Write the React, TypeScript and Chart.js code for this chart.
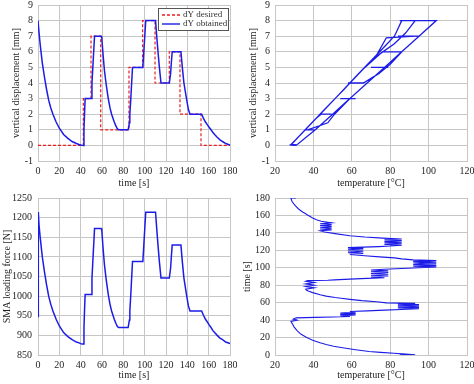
import React, { useEffect, useRef } from 'react';
import { Chart, registerables } from 'chart.js';

Chart.register(...registerables);

// ---------- data ----------
// time samples [s], grouped by phase (same grouping in every parallel array)
const timeS = [
  0, 0.3, 1, 2, 3, 4, 6, 8, 10, 12, 14, 17, 20, 24, 28, 32, 36, 38.5, 40, 41.2, 42.6,
  43.1, 43.6, 44.2, 45, 45.8, 46.6, 47.4, 48.2, 49, 49.8,
  50.6, 51.4, 52.2, 53, 53.8, 54.6, 55.4, 56.2, 57, 57.8, 58.6, 59.2,
  59.8, 61, 62.3, 63.75, 65, 65.9, 67.5, 69, 71.5, 73, 74.3, 75.5, 77, 78.5, 80, 81.5, 83, 84.5, 85.3,
  85.7, 86.1, 87, 87.8, 88.6, 89.5, 90.5, 91.5, 92.5, 93.5, 94.5, 95.5, 96.5, 97.4, 98.3,
  99.2, 100.1, 101, 101.9, 102.8, 103.7, 104.6, 105.5, 106.4, 107.3, 108.2, 109.1, 110.2,
  111.3, 112.5, 113.8, 115.3, 116.3, 117.3, 118.3, 119.3, 120.3, 121.3, 122.3, 123.1, 123.7,
  124.3, 124.9, 125.8, 126.7, 127.6, 128.5, 129.4, 130.3, 131.2, 132.1, 133, 134,
  135.3, 136.8, 139.2, 141, 142.5, 143.5, 144.5, 145.5, 146.5, 147.5, 148.5, 149.5, 150.5, 151.5, 153.4,
  155, 157, 159, 160.6, 162.2, 164, 166, 168, 170.6, 173, 176, 180, 180,
];

// dY obtained [mm]
const dispObtained = [
  8, 8, 7.2, 6.5, 5.9, 5.3, 4.4, 3.6, 2.9, 2.4, 2.0, 1.5, 1.1, 0.7, 0.45, 0.25, 0.12, 0.06, 0.03, 0.01, 0,
  1, 2, 3, 3, 3, 3, 3, 3, 3, 3,
  4, 5, 6, 7, 7, 7, 7, 7, 7, 7, 7, 7,
  6.9, 5.8, 4.8, 4, 3.4, 3, 2.4, 2, 1.5, 1.25, 1.08, 1, 1, 1, 1, 1, 1, 1, 1,
  1.45, 2, 3, 4, 5, 5, 5, 5, 5, 5, 5, 5, 5, 5, 5,
  6, 7, 8, 8, 8, 8, 8, 8, 8, 8, 8, 8, 8,
  7, 6, 5, 4, 4, 4, 4, 4, 4, 4, 4, 4, 4,
  4.6, 5.2, 6, 6, 6, 6, 6, 6, 6, 6, 6, 6,
  5, 4, 3, 2.3, 2, 2, 2, 2, 2, 2, 2, 2, 2, 2, 2,
  1.75, 1.5, 1.3, 1.15, 1.0, 0.82, 0.66, 0.52, 0.36, 0.25, 0.12, 0.02, 0,
];

// temperature [°C]
const temperatureC = [
  85, 93, 88, 82, 75, 69, 62, 56, 50.5, 46.6, 43.5, 39.6, 36.5, 33.4, 31.5, 30, 29, 28.3, 31.5, 29.5, 31,
  41, 50, 59, 54, 62, 54, 62, 54, 62, 59,
  68, 77, 86, 95, 84, 95, 84, 95, 84, 95, 84, 93,
  78, 73, 65.2, 59, 54.4, 51.3, 46.6, 43.5, 39.6, 37.7, 36.4, 36, 40.5, 36, 40.5, 36, 40.5, 36, 37,
  47.5, 51, 59, 68, 77, 70, 79, 70, 79, 70, 79, 70, 79, 70, 77,
  86, 95, 104, 92, 104, 92, 104, 92, 104, 92, 104, 92, 86,
  82.2, 74.5, 66.7, 59, 66, 58, 66, 58, 66, 58, 66, 58, 66,
  74, 80, 86, 77, 86, 77, 86, 77, 86, 77, 86, 76,
  66.8, 59, 51.3, 45.8, 43.5, 49.5, 43.5, 49.5, 43.5, 49.5, 43.5, 49.5, 43.5, 49.5, 44,
  41.6, 39.6, 38.1, 36.9, 35.8, 34.4, 33.1, 32, 30.8, 29.9, 28.9, 28.2, 31,
];

// SMA loading force [N]
const loadingForceN = [
  948, 1214, 1180, 1151, 1126, 1101, 1063, 1029, 1000, 979, 962, 941, 924, 907, 897, 889, 883, 881, 879, 878, 878,
  920, 962, 1004, 1004, 1004, 1004, 1004, 1004, 1004, 1004,
  1046, 1088, 1130, 1172, 1172, 1172, 1172, 1172, 1172, 1172, 1172, 1172,
  1168, 1122, 1080, 1046, 1021, 1004, 979, 962, 941, 931, 923, 920, 920, 920, 920, 920, 920, 920, 920,
  939, 962, 1004, 1046, 1088, 1088, 1088, 1088, 1088, 1088, 1088, 1088, 1088, 1088, 1088,
  1130, 1172, 1214, 1214, 1214, 1214, 1214, 1214, 1214, 1214, 1214, 1214, 1214,
  1172, 1130, 1088, 1046, 1046, 1046, 1046, 1046, 1046, 1046, 1046, 1046, 1046,
  1071, 1096, 1130, 1130, 1130, 1130, 1130, 1130, 1130, 1130, 1130, 1130,
  1088, 1046, 1004, 975, 962, 962, 962, 962, 962, 962, 962, 962, 962, 962, 962,
  952, 941, 933, 926, 920, 912, 906, 900, 893, 889, 883, 879, 878,
];

// dY desired (step command)
const desiredTime = [0, 42.5, 42.5, 49.7, 49.7, 58.8, 58.8, 85.3, 85.3, 98.1, 98.1, 109.7, 109.7, 123.1, 123.1, 133.1, 133.1, 152.8, 152.8, 180];
const desiredDisp = [0, 0, 3, 3, 7, 7, 1, 1, 5, 5, 8, 8, 4, 4, 6, 6, 2, 2, 0, 0];

const legendLabels = ['dY desired', 'dY obtained'];

// ---------- styling ----------
const FONT = "'Liberation Serif', 'Times New Roman', Times, serif";
const GRID = '#c6c6c6';
const TEXT = '#1e1e1e';
const BLUE = 'rgb(28,28,232)';
const RED = 'rgb(235,30,30)';
const W = 237;
const H = 192;

function makeScale(
  min: number, max: number, step: number, title: string,
  size: number, tickPad: number, titlePad: number, horizontal: boolean,
) {
  return {
    type: 'linear',
    min, max,
    ticks: {
      stepSize: step,
      autoSkip: false,
      maxRotation: 0,
      font: { family: FONT, size: 10 },
      color: TEXT,
      padding: tickPad,
      callback: (v: any) => String(v),
    },
    grid: { color: GRID, lineWidth: 1, drawTicks: false },
    border: { display: true, color: GRID, width: 1 },
    title: {
      display: true,
      text: title,
      color: TEXT,
      font: { family: FONT, size: 10 },
      padding: horizontal ? { top: 0, bottom: titlePad } : { top: titlePad, bottom: 0 },
    },
    afterFit: (s: any) => {
      if (horizontal) {
        s.height = size;
        s.paddingLeft = 0;
        s.paddingRight = 0;
      } else {
        s.width = size;
        s.paddingTop = 0;
        s.paddingBottom = 0;
      }
    },
  };
}

const insideLegend = {
  id: 'insideLegend',
  afterDraw(chart: any) {
    const { ctx, chartArea } = chart;
    const w = 70;
    const h = 22;
    const x = Math.round(chartArea.right - 72);
    const y = Math.round(chartArea.top + 3);
    ctx.save();
    ctx.fillStyle = '#ffffff';
    ctx.fillRect(x, y, w, h);
    ctx.strokeStyle = '#555555';
    ctx.lineWidth = 1;
    ctx.strokeRect(x + 0.5, y + 0.5, w, h);
    const rows = [
      { label: legendLabels[0], color: RED, dash: [3, 2], yy: y + 7 },
      { label: legendLabels[1], color: BLUE, dash: [], yy: y + 16 },
    ];
    ctx.font = `9px ${FONT}`;
    ctx.textBaseline = 'middle';
    ctx.textAlign = 'left';
    for (const r of rows) {
      ctx.beginPath();
      ctx.setLineDash(r.dash);
      ctx.strokeStyle = r.color;
      ctx.lineWidth = 1.4;
      ctx.moveTo(x + 4, r.yy);
      ctx.lineTo(x + 22, r.yy);
      ctx.stroke();
      ctx.setLineDash([]);
      ctx.fillStyle = '#333333';
      ctx.fillText(r.label, x + 25, r.yy);
    }
    ctx.restore();
  },
};

function baseOptions(scales: any, pad: any) {
  return {
    responsive: false,
    maintainAspectRatio: false,
    animation: false,
    layout: { padding: pad },
    plugins: { legend: { display: false }, tooltip: { enabled: false } },
    elements: { point: { radius: 0 }, line: { tension: 0 } },
    scales,
  };
}

function pts(xs: number[], ys: number[]) {
  return xs.map((x, i) => ({ x, y: ys[i] }));
}

function configTopLeft(): any {
  return {
    type: 'scatter',
    data: {
      datasets: [
        {
          label: legendLabels[1], data: pts(timeS, dispObtained), showLine: true,
          borderColor: BLUE, borderWidth: 1.5, pointRadius: 0, order: 0,
        },
        {
          label: legendLabels[0], data: pts(desiredTime, desiredDisp), showLine: true,
          borderColor: RED, borderWidth: 1.2, borderDash: [3, 2], pointRadius: 0, order: 1,
        },
      ],
    },
    options: baseOptions(
      {
        x: makeScale(0, 180, 20, 'time [s]', 31, 4, 3, true),
        y: makeScale(-1, 9, 1, 'vertical displacement [mm]', 38, 5, 10, false),
      },
      { top: 5, right: 7, left: 0, bottom: 0 },
    ),
    plugins: [insideLegend],
  };
}

function configTopRight(): any {
  return {
    type: 'scatter',
    data: {
      datasets: [
        {
          label: 'dY vs temperature', data: pts(temperatureC, dispObtained), showLine: true,
          borderColor: BLUE, borderWidth: 1.3, pointRadius: 0,
        },
      ],
    },
    options: baseOptions(
      {
        x: makeScale(20, 120, 20, 'temperature [°C]', 31, 4, 3, true),
        y: makeScale(-1, 9, 1, 'vertical displacement [mm]', 38, 5, 10, false),
      },
      { top: 5, right: 7, left: 0, bottom: 0 },
    ),
  };
}

function configBottomLeft(): any {
  return {
    type: 'scatter',
    data: {
      datasets: [
        {
          label: 'SMA loading force', data: pts(timeS, loadingForceN), showLine: true,
          borderColor: BLUE, borderWidth: 1.5, pointRadius: 0,
        },
      ],
    },
    options: baseOptions(
      {
        x: makeScale(0, 180, 20, 'time [s]', 29, 4, 3, true),
        y: makeScale(850, 1250, 50, 'SMA loading force [N]', 38, 6, 1, false),
      },
      { top: 6, right: 7, left: 0, bottom: 0 },
    ),
  };
}

function configBottomRight(): any {
  return {
    type: 'scatter',
    data: {
      datasets: [
        {
          label: 'time vs temperature', data: pts(temperatureC, timeS), showLine: true,
          borderColor: BLUE, borderWidth: 1.1, pointRadius: 0,
        },
      ],
    },
    options: baseOptions(
      {
        x: makeScale(20, 120, 20, 'temperature [°C]', 29, 4, 3, true),
        y: makeScale(0, 180, 20, 'time [s]', 38, 5, 4, false),
      },
      { top: 6, right: 7, left: 0, bottom: 0 },
    ),
  };
}

function Panel({ build, left, top }: { build: () => any; left: number; top: number }) {
  const ref = useRef<HTMLCanvasElement | null>(null);
  useEffect(() => {
    if (!ref.current) return;
    const chart = new Chart(ref.current, build());
    return () => chart.destroy();
  }, [build]);
  return (
    <canvas
      ref={ref}
      width={W}
      height={H}
      style={{ position: 'absolute', left, top, width: W, height: H, display: 'block' }}
    />
  );
}

export default function App() {
  return (
    <div style={{ position: 'absolute', left: 0, top: 0, width: 474, height: 384, background: '#ffffff' }}>
      <Panel build={configTopLeft} left={0} top={0} />
      <Panel build={configTopRight} left={237} top={0} />
      <Panel build={configBottomLeft} left={0} top={192} />
      <Panel build={configBottomRight} left={237} top={192} />
    </div>
  );
}
